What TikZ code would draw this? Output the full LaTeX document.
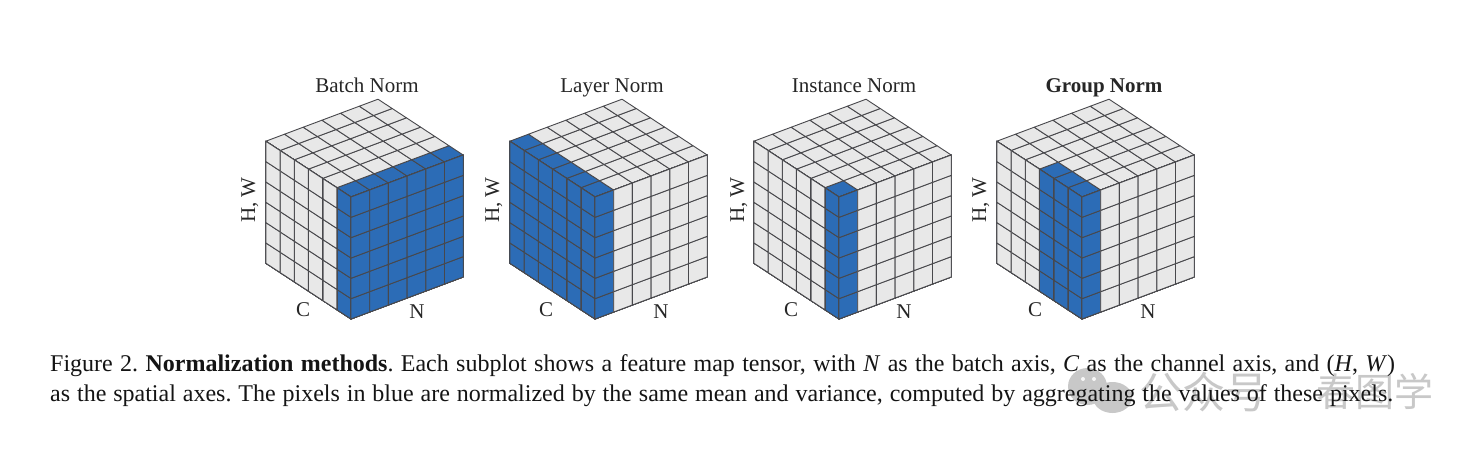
\documentclass[tikz,border=0pt]{standalone}
\usepackage{fontspec}
\setmainfont{Liberation Serif}
\newfontfamily\cjk{Noto Sans CJK SC}
\usetikzlibrary{positioning}
\definecolor{cellgray}{RGB}{232,232,232}
\definecolor{cellblue}{RGB}{44,108,182}
\definecolor{gridline}{RGB}{72,72,76}
\definecolor{wmgray}{RGB}{200,200,200}
\tikzset{
cube cell/.style={fill=cellgray,draw=gridline,line width=0.9pt,line join=round},
norm cell/.style={cube cell,fill=cellblue},
axis text/.style={text=black!85,font=\fontsize{21}{24}\selectfont,inner sep=0pt,anchor=base},
title text/.style={axis text},
watermark/.style={text=wmgray,inner sep=0pt,anchor=west},
}
% #1 = blue cells along C, #2 = blue cells along N
\newcommand{\normcube}[2]{
    \foreach \i in {0,...,5} {
        \foreach \j in {0,...,5} {
            \pgfmathtruncatemacro{\ii}{\i+1}
            \pgfmathtruncatemacro{\jj}{\j+1}
            % top face
            \pgfmathsetmacro{\iscell}{(\i<#1)&&(\j<#2)}
            \ifdim\iscell pt>0pt \def\cellstyle{norm cell}\else \def\cellstyle{cube cell}\fi
            \draw[\cellstyle] (\j,6,\i) -- (\jj,6,\i) -- (\jj,6,\ii) -- (\j,6,\ii) -- cycle;
            % faces towards C and N
            \foreach \k in {0,...,5} {
                \pgfmathtruncatemacro{\kk}{\k+1}
                \pgfmathsetmacro{\iscell}{(\i<#1)&&(0<#2)}
                \ifdim\iscell pt>0pt \def\cellstyle{norm cell}\else \def\cellstyle{cube cell}\fi
                \draw[\cellstyle] (0,\k,\i) -- (0,\kk,\i) -- (0,\kk,\ii) -- (0,\k,\ii) -- cycle;
                \pgfmathsetmacro{\iscell}{(0<#1)&&(\j<#2)}
                \ifdim\iscell pt>0pt \def\cellstyle{norm cell}\else \def\cellstyle{cube cell}\fi
                \draw[\cellstyle] (\j,\k,0) -- (\jj,\k,0) -- (\jj,\kk,0) -- (\j,\kk,0) -- cycle;
            }
        }
    }
}
\begin{document}
\frenchspacing
\begin{tikzpicture}[x=1pt,y=1pt]
    \useasboundingbox (0,0) rectangle (1480,453);
    \fill[white] (0,0) rectangle (1480,453);

    \begin{scope}[shift={(351,134)},x={(18.7pt,7pt)},y={(0pt,20.33pt)},z={(-14.2pt,9.3pt)}]
        \normcube{1}{6}
    \end{scope}
    \begin{scope}[shift={(595,134)},x={(18.7pt,7pt)},y={(0pt,20.33pt)},z={(-14.2pt,9.3pt)}]
        \normcube{6}{1}
    \end{scope}
    \begin{scope}[shift={(839,134)},x={(18.7pt,7pt)},y={(0pt,20.33pt)},z={(-14.2pt,9.3pt)}]
        \normcube{1}{1}
    \end{scope}
    \begin{scope}[shift={(1082,134)},x={(18.7pt,7pt)},y={(0pt,20.33pt)},z={(-14.2pt,9.3pt)}]
        \normcube{3}{1}
    \end{scope}

    \node[title text] (batchtitle) at (367,360) {Batch Norm};
    \node[title text] (layertitle) at (612,360) {Layer Norm};
    \node[title text] (insttitle) at (854,360) {Instance Norm};
    \node[title text] (grouptitle) at (1104,360) {\textbf{Group Norm}};

    \node[axis text,rotate=90] (batchhw) at (255,253) {H, W};
    \node[axis text,rotate=90] (layerhw) at (499,253) {H, W};
    \node[axis text,rotate=90] (insthw) at (744,253) {H, W};
    \node[axis text,rotate=90] (grouphw) at (986,253) {H, W};

    \node[axis text] (batchc) at (303,137) {C};
    \node[axis text] (layerc) at (546,137) {C};
    \node[axis text] (instc) at (791,137) {C};
    \node[axis text] (groupc) at (1035,137) {C};

    \node[axis text] (batchn) at (417,135) {N};
    \node[axis text] (layern) at (661,135) {N};
    \node[axis text] (instn) at (904,135) {N};
    \node[axis text] (groupn) at (1148,135) {N};

    % watermark sits under the caption
    \fill[wmgray] (1087.5,66.5) ellipse (19.5 and 18.5);
    \fill[wmgray] (1112.5,55.5) ellipse (19.5 and 15.5);
    \fill[white!85!wmgray] (1083,74) circle (2);
    \fill[white!85!wmgray] (1094,74) circle (2);
    \node[watermark,font=\cjk\fontsize{43}{46}\selectfont] (wmone) at (1139,61) {公众号};
    \node[watermark,font=\cjk\fontsize{39}{42}\selectfont] (wmtwo) at (1316,61) {春图学};

    \node[anchor=north west,inner sep=0pt,align=left,text=black!92,
          font=\fontsize{24}{29.5}\selectfont] (caption) at (50,98.5) {%
        \makebox[1345pt][s]{Figure 2. \textbf{Normalization methods}. Each subplot shows a feature map tensor, with \textit{N} as the batch axis, \textit{C} as the channel axis, and (\textit{H}, \textit{W})}\\
        \makebox[1343pt][s]{as the spatial axes. The pixels in blue are normalized by the same mean and variance, computed by aggregating the values of these pixels.}};
\end{tikzpicture}
\end{document}
